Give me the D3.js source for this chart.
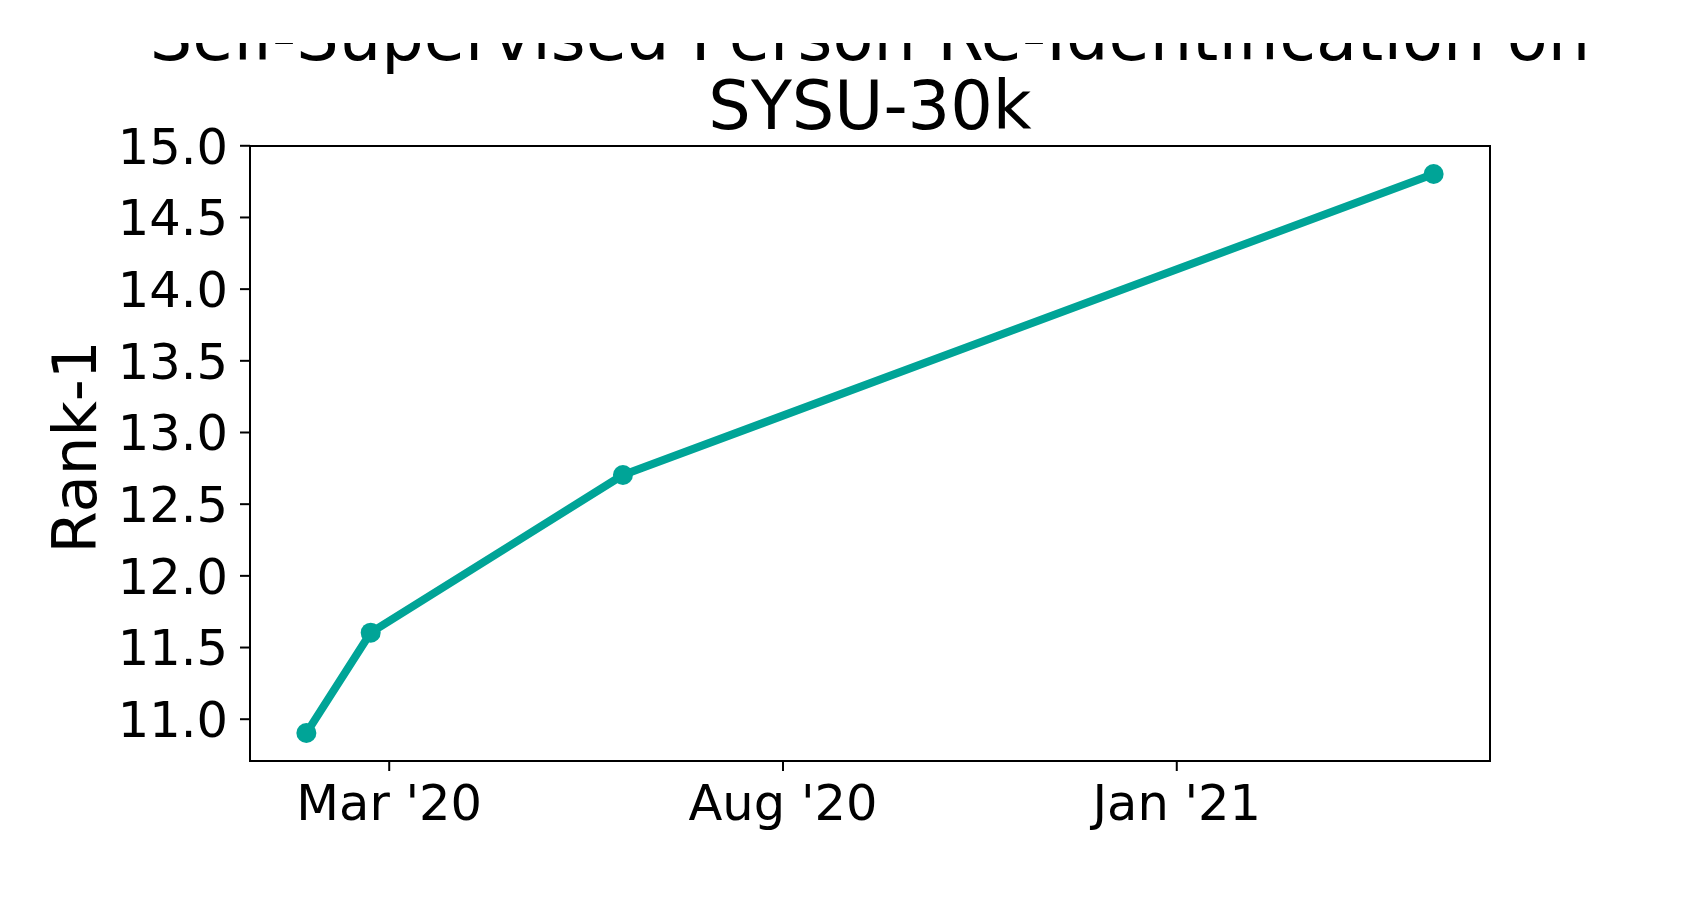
<!DOCTYPE html>
<html>
<head>
<meta charset="utf-8">
<script src="https://cdn.jsdelivr.net/npm/d3@7"></script>
<style>
  body { margin: 0; background: #fff; }
  text { font-family: "DejaVu Sans", sans-serif; fill: #000; }
</style>
</head>
<body>
<svg id="chart" width="1700" height="900"></svg>
<script>
const dates = ['2020-01-29', '2020-02-23', '2020-05-31', '2021-04-11'];
const rank1 = [10.9, 11.6, 12.7, 14.8];
const yTicks = [11.0, 11.5, 12.0, 12.5, 13.0, 13.5, 14.0, 14.5, 15.0];
const xTicks = ['2020-03-01', '2020-08-01', '2021-01-01'];
const titleLines = ['Self-Supervised Person Re-Identification on', 'SYSU-30k'];

const svg = d3.select('#chart');
const parse = d3.timeParse('%Y-%m-%d');
const plotLeft = 250, plotRight = 1490, plotTop = 146, plotBottom = 761;
const color = '#00a497';

const points = dates.map((d, i) => ({ date: parse(d), value: rank1[i] }));

// matplotlib style 5% margins around the data
const xExt = d3.extent(points, p => p.date);
const xPad = (xExt[1] - xExt[0]) * 0.05;
const yExt = d3.extent(rank1);
const yPad = (yExt[1] - yExt[0]) * 0.05;

const x = d3.scaleTime()
  .domain([new Date(+xExt[0] - xPad), new Date(+xExt[1] + xPad)])
  .range([plotLeft, plotRight]);
const y = d3.scaleLinear()
  .domain([yExt[0] - yPad, yExt[1] + yPad])
  .range([plotBottom, plotTop]);

// y axis
const yAxis = svg.append('g')
  .attr('transform', `translate(${plotLeft},0)`)
  .call(d3.axisLeft(y).tickValues(yTicks).tickFormat(d3.format('.1f')).tickSize(10).tickPadding(12));
yAxis.select('.domain').remove();
yAxis.selectAll('line').attr('stroke', '#000').attr('stroke-width', 2);
yAxis.selectAll('text').attr('font-size', 49.5).attr('dy', '0.36em');

// x axis
const xAxis = svg.append('g')
  .attr('transform', `translate(0,${plotBottom})`)
  .call(d3.axisBottom(x).tickValues(xTicks.map(parse)).tickFormat(d3.timeFormat("%b '%y")).tickSize(10).tickPadding(12));
xAxis.select('.domain').remove();
xAxis.selectAll('line').attr('stroke', '#000').attr('stroke-width', 2);
xAxis.selectAll('text').attr('font-size', 49.5).attr('dy', '0.74em');

// frame
svg.append('rect')
  .attr('x', plotLeft).attr('y', plotTop)
  .attr('width', plotRight - plotLeft).attr('height', plotBottom - plotTop)
  .attr('fill', 'none').attr('stroke', '#000').attr('stroke-width', 2);

// series
const line = d3.line().x(p => x(p.date)).y(p => y(p.value));
svg.append('path')
  .datum(points)
  .attr('d', line)
  .attr('fill', 'none')
  .attr('stroke', color)
  .attr('stroke-width', 8)
  .attr('stroke-linejoin', 'round');

svg.selectAll('circle.pt')
  .data(points)
  .enter()
  .append('circle')
  .attr('class', 'pt')
  .attr('cx', p => x(p.date))
  .attr('cy', p => y(p.value))
  .attr('r', 10)
  .attr('fill', color);

// y label
svg.append('text')
  .attr('transform', `translate(96,447) rotate(-90)`)
  .attr('text-anchor', 'middle')
  .attr('font-size', 61)
  .text('Rank-1');

// title, top of the first line is cut off as in the source image
svg.append('clipPath').attr('id', 'titleClip')
  .append('rect').attr('x', 0).attr('y', 43).attr('width', 1700).attr('height', 857);

svg.append('g')
  .attr('clip-path', 'url(#titleClip)')
  .selectAll('text')
  .data(titleLines)
  .enter()
  .append('text')
  .attr('x', (plotLeft + plotRight) / 2)
  .attr('y', (d, i) => 59.5 + i * 69)
  .attr('text-anchor', 'middle')
  .attr('font-size', 67)
  .text(d => d);
</script>
</body>
</html>
